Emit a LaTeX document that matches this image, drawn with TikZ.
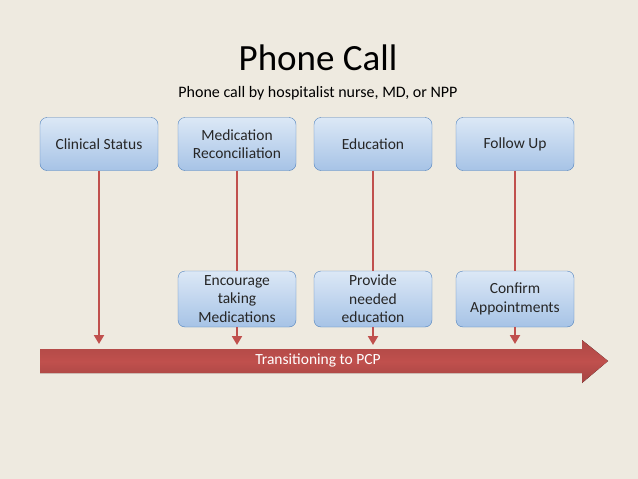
\documentclass[tikz,border=0pt]{standalone}
\usepackage{fontspec}
\setmainfont{Carlito}
\usetikzlibrary{arrows.meta}
\definecolor{bg}{HTML}{EEEAE0}
\definecolor{bx}{HTML}{4F81BD}
\definecolor{rd}{HTML}{C0504D}
\definecolor{bt}{HTML}{DCE8F6}
\definecolor{bb}{HTML}{A6C3E6}
\tikzset{box/.style={draw=bx,rounded corners=7pt,top color=bt,bottom color=bb,minimum width=118pt,minimum height=53pt,align=center,font=\fontsize{15.5}{18.5}\selectfont,text=black!85},
ln/.style={draw=rd,line width=2pt,-{Triangle[length=9pt,width=10pt]}}}
\begin{document}
\begin{tikzpicture}[x=1pt,y=-1pt]
\fill[bg] (0,0) rectangle (638,479);
\node (t) at (318,58) {\fontsize{37}{40}\selectfont Phone Call};
\node (s) at (318,93) {\fontsize{16}{18}\selectfont Phone call by hospitalist nurse, MD, or NPP};
\node[box] (a) at (99,144) {Clinical Status};
\node[box] (b) at (237,144) {Medication\\Reconciliation};
\node[box] (c) at (373,144) {Education};
\node[box] (d) at (515,144) {Follow Up};
\node[box,minimum height=56pt] (b2) at (237,299) {Encourage\\taking\\Medications};
\node[box,minimum height=56pt] (c2) at (373,299) {Provide\\needed\\education};
\node[box,minimum height=56pt] (d2) at (515,299) {Confirm\\Appointments};
\fill[top color=rd!90!black,bottom color=rd!85!black,middle color=rd] (40,349) -- (582,349) -- (582,340) -- (608,361) -- (582,383) -- (582,373) -- (40,373) -- cycle;
\node[text=white,font=\fontsize{15.5}{18}\selectfont] (bar) at (318,360) {Transitioning to PCP};
\coordinate (ae) at (99,344);
\coordinate (de) at (515,344);
\coordinate (be) at (237,345);
\coordinate (ce) at (373,345);
\draw[ln] (a) -- (ae);
\draw[draw=rd,line width=2pt] (b) -- (b2);
\draw[draw=rd,line width=2pt] (c) -- (c2);
\draw[draw=rd,line width=2pt] (d) -- (d2);
\draw[ln] (b2) -- (be);
\draw[ln] (c2) -- (ce);
\draw[ln] (d2) -- (de);
\end{tikzpicture}
\end{document}
